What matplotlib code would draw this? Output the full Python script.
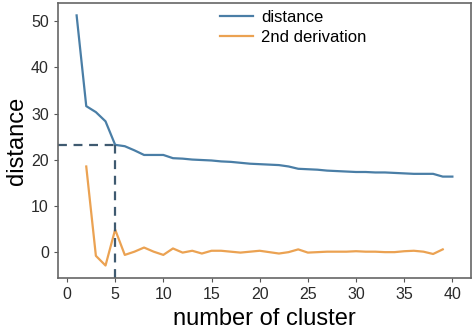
import matplotlib
matplotlib.use("Agg")
import matplotlib.pyplot as plt

plt.rcParams['font.family'] = ['Liberation Sans', 'DejaVu Sans']

clusters = list(range(1, 41))
distance = [51.3, 31.6, 30.3, 28.3, 23.2, 22.9, 22.0, 21.0, 21.0, 21.0,
            20.3, 20.2, 20.0, 19.9, 19.8, 19.6, 19.5, 19.3, 19.1, 19.0,
            18.9, 18.8, 18.5, 18.0, 17.9, 17.8, 17.6, 17.5, 17.4, 17.3,
            17.3, 17.2, 17.2, 17.1, 17.0, 16.9, 16.9, 16.9, 16.3, 16.3]
deriv_x = list(range(2, 40))
deriv = [18.5, -0.9, -3.0, 4.8, -0.7, 0.0, 0.9, 0.0, -0.7, 0.7,
         -0.2, 0.2, -0.4, 0.2, 0.2, 0.0, -0.2, 0.0, 0.2, -0.1,
         -0.4, -0.1, 0.5, -0.2, -0.1, 0.0, 0.0, 0.0, 0.1, 0.0,
         0.0, -0.1, -0.1, 0.1, 0.2, 0.0, -0.5, 0.5]
best_k = 5

fig = plt.figure(figsize=(4.74, 3.29), dpi=100)
ax = fig.add_axes([0.122, 0.155, 0.872, 0.836])

ax.plot(clusters, distance, color='#4a7ea6', lw=1.6, label='distance')
ax.plot(deriv_x, deriv, color='#eba252', lw=1.6, label='2nd derivation')
ax.margins(x=0.05, y=0.05)

# elbow marker
k_val = distance[clusters.index(best_k)]
ylo = ax.get_ylim()[0]
xlo = ax.get_xlim()[0]
ax.plot([best_k, best_k], [ylo, k_val], ls=(0, (4, 3)), color='#3f5a70', lw=1.6)
ax.plot([xlo, best_k], [k_val, k_val], ls=(0, (4, 3)), color='#3f5a70', lw=1.6)
ax.set_xlim(xlo, 41.95)
ax.set_ylim(ylo, 54.0)

ax.set_xticks(range(0, 41, 5))
ax.set_yticks([0, 10, 20, 30, 40, 50])
ax.tick_params(labelsize=11.5, length=3, color='#555555', labelcolor='#2a2a2a')
for s in ax.spines.values():
    s.set_color('#666666')
    s.set_linewidth(1.2)

ax.set_xlabel('number of cluster', fontsize=17, labelpad=4)
ax.set_ylabel('distance', fontsize=17, labelpad=2)

ax.legend(loc='upper left', bbox_to_anchor=(0.355, 1.03), frameon=False,
          fontsize=12, handlelength=2.0, handletextpad=0.5, labelspacing=0.3)

fig.savefig('out.png', dpi=100)
